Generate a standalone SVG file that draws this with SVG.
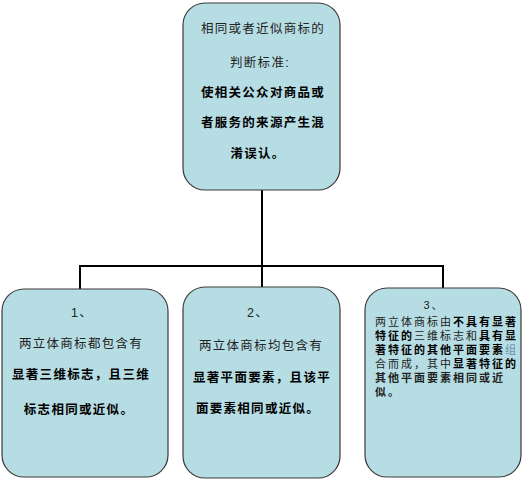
<svg xmlns="http://www.w3.org/2000/svg" width="523" height="480" viewBox="0 0 523 480">
<style>
.box{fill:#B7DDE4;stroke:#3a3a3a;stroke-width:1.2}
.t{font-family:"Liberation Sans","Noto Sans CJK SC",sans-serif;font-size:12.5px;fill:#222;letter-spacing:1.3px}
.c{text-anchor:middle}
.b{font-weight:bold;fill:#000}
.s{font-family:"Liberation Sans","Noto Sans CJK SC",sans-serif;font-size:11px;fill:#222;letter-spacing:2px}
.conn{stroke:#000;stroke-width:2;fill:none}
</style>
<rect width="523" height="480" fill="#fff"/>
<g id="connectors">
<path class="conn" d="M262 190V266M80 266H443M80 265V290M262 265V288M443 265V289"/>
</g>
<g id="top">
<rect class="box" x="183" y="3" width="157" height="187" rx="22"/>
<text class="t c" x="263" y="33">相同或者近似商标的</text>
<text class="t c" x="260" y="67">判断标准:</text>
<text class="t c b" x="263" y="97">使相关公众对商品或</text>
<text class="t c b" x="263" y="127">者服务的来源产生混</text>
<text class="t c b" x="258" y="158">淆误认。</text>
</g>
<g id="n1">
<rect class="box" x="2" y="289" width="166" height="188" rx="22"/>
<text class="t c" x="82" y="317">1、</text>
<text class="t c" x="81" y="348">两立体商标都包含有</text>
<text class="t c b" x="81" y="379">显著三维标志，且三维</text>
<text class="t c b" x="79" y="414">标志相同或近似。</text>
</g>
<g id="n2">
<rect class="box" x="183" y="287" width="157" height="191" rx="22"/>
<text class="t c" x="258" y="317">2、</text>
<text class="t c" x="261" y="350">两立体商标均包含有</text>
<text class="t c b" x="262" y="382">显著平面要素，且该平</text>
<text class="t c b" x="258" y="413">面要素相同或近似。</text>
</g>
<g id="n3">
<rect class="box" x="365" y="288" width="156" height="189" rx="22"/>
<text class="s c" x="434" y="309">3、</text>
<text class="s" x="375" y="326">两立体商标由<tspan class="b">不具有显著</tspan></text>
<text class="s" x="375" y="340"><tspan class="b">特征的</tspan>三维标志和<tspan class="b">具有显</tspan></text>
<text class="s" x="375" y="354"><tspan class="b">著特征的其他平面要素</tspan><tspan fill="#6a8fa8">组</tspan></text>
<text class="s" x="375" y="368">合而成，其中<tspan class="b">显著特征的</tspan></text>
<text class="s b" x="375" y="382">其他平面要素相同或近</text>
<text class="s b" x="375" y="396">似。</text>
</g>
</svg>
